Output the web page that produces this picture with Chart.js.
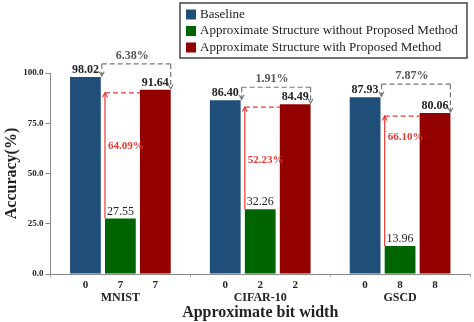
<!DOCTYPE html>
<html>
<head>
<meta charset="utf-8">
<script src="https://cdn.jsdelivr.net/npm/chart.js@4.4.1/dist/chart.umd.min.js"></script>
<style>
  body { margin: 0; background: #fff; }
  #wrap { width: 474px; height: 322px; }
</style>
</head>
<body>
<div id="wrap"><canvas id="chart-area" width="474" height="322"></canvas></div>
<script>
var categories = ['MNIST', 'CIFAR-10', 'GSCD'];
var seriesNames = [
    'Baseline',
    'Approximate Structure without Proposed Method',
    'Approximate Structure with Proposed Method'
];
var baseline = [98.02, 86.40, 87.93];
var withoutMethod = [27.55, 32.26, 13.96];
var withMethod = [91.64, 84.49, 80.06];
// approximate bit width under each bar
var baselineBits = [0, 0, 0];
var withoutBits = [7, 2, 8];
var withBits = [7, 2, 8];
// accuracy drop (baseline -> proposed) and recovery (without -> with)
var dropLabels = ['6.38%', '1.91%', '7.87%'];
var recoveryLabels = ['64.09%', '52.23%', '66.10%'];
var yTicks = [0, 25, 50, 75, 100];

var colors = {
    blue: 'rgb(31, 78, 121)',
    green: 'rgb(0, 100, 0)',
    red: 'rgb(146, 0, 0)'
};
var serif = '"Liberation Serif", "Times New Roman", serif';

function arrow(ctx, x1, y1, x2, y2, color, dashed) {
    ctx.save();
    ctx.strokeStyle = color;
    ctx.lineWidth = 1.2;
    ctx.setLineDash(dashed ? [5, 3] : []);
    ctx.beginPath();
    ctx.moveTo(x1, y1);
    ctx.lineTo(x2, y2);
    ctx.stroke();
    ctx.setLineDash([]);
    var a = Math.atan2(y2 - y1, x2 - x1);
    ctx.beginPath();
    ctx.moveTo(x2 - 5 * Math.cos(a - 0.5), y2 - 5 * Math.sin(a - 0.5));
    ctx.lineTo(x2, y2);
    ctx.lineTo(x2 - 5 * Math.cos(a + 0.5), y2 - 5 * Math.sin(a + 0.5));
    ctx.stroke();
    ctx.restore();
}

function dashLine(ctx, x1, y1, x2, y2, color) {
    ctx.save();
    ctx.strokeStyle = color;
    ctx.lineWidth = 1.2;
    ctx.setLineDash([5, 3]);
    ctx.beginPath();
    ctx.moveTo(x1, y1);
    ctx.lineTo(x2, y2);
    ctx.stroke();
    ctx.restore();
}

var annotatePlugin = {
    id: 'annotate',
    afterDatasetsDraw: function (chart, args, opts) {
        var ctx = chart.ctx;
        var y = chart.scales.y;
        var bits = [baselineBits, withoutBits, withBits];
        ctx.save();
        ctx.textAlign = 'center';

        // value labels and bit widths
        chart.data.datasets.forEach(function (ds, i) {
            var meta = chart.getDatasetMeta(i);
            meta.data.forEach(function (bar, j) {
                ctx.fillStyle = '#222';
                ctx.textBaseline = 'bottom';
                ctx.font = (i === 1 ? '' : 'bold ') + '12px ' + serif;
                ctx.fillText(ds.data[j].toFixed(2), bar.x, bar.y - 1);
                ctx.textBaseline = 'middle';
                ctx.font = 'bold 11px ' + serif;
                ctx.fillText(String(bits[i][j]), bar.x, y.bottom + 11);
            });
        });

        var m0 = chart.getDatasetMeta(0), m1 = chart.getDatasetMeta(1), m2 = chart.getDatasetMeta(2);
        categories.forEach(function (c, j) {
            var b0 = m0.data[j], b1 = m1.data[j], b2 = m2.data[j];
            // grey bracket: baseline -> proposed
            var xl = b0.x + b0.width / 2 + 1;
            var xr = b2.x + b2.width / 2;
            var ly = y.getPixelForValue(baseline[j] + 6.5);
            dashLine(ctx, xl, ly, xr, ly, '#777');
            arrow(ctx, xl, ly, xl, b0.y - 1, '#777', true);
            arrow(ctx, xr, ly, xr, b2.y - 1, '#777', true);
            ctx.fillStyle = '#555';
            ctx.textBaseline = 'bottom';
            ctx.font = 'bold 12px ' + serif;
            ctx.fillText(dropLabels[j], (xl + xr) / 2 - 4, ly - 2);

            // red arrow: without -> with
            var xa = b1.x - b1.width / 2;
            var ry = y.getPixelForValue(withMethod[j] - 1.5);
            arrow(ctx, xa, b1.y, xa, ry, '#e53935', false);
            dashLine(ctx, xa, ry, b2.x - b2.width / 2, ry, '#e53935');
            ctx.fillStyle = '#e53935';
            ctx.textAlign = 'left';
            ctx.textBaseline = 'middle';
            ctx.font = 'bold 11px ' + serif;
            ctx.fillText(recoveryLabels[j], xa + 3, y.getPixelForValue(opts.labelAt[j]));
            ctx.textAlign = 'center';
        });
        ctx.restore();
    }
};

var legendPlugin = {
    id: 'boxLegend',
    afterDraw: function (chart) {
        var ctx = chart.ctx;
        ctx.save();
        ctx.strokeStyle = '#444';
        ctx.lineWidth = 1.5;
        ctx.strokeRect(180, 3, 287, 55);
        ctx.font = '13px ' + serif;
        ctx.textBaseline = 'middle';
        ctx.textAlign = 'left';
        chart.data.datasets.forEach(function (ds, i) {
            var cy = 14.5 + i * 16.5;
            ctx.fillStyle = ds.backgroundColor;
            ctx.fillRect(186, cy - 5, 10, 10);
            ctx.fillStyle = '#222';
            ctx.fillText(ds.label, 200, cy);
        });
        ctx.restore();
    }
};

var config = {
    type: 'bar',
    data: {
        labels: categories,
        datasets: [{
            label: seriesNames[0],
            data: baseline,
            backgroundColor: colors.blue
        }, {
            label: seriesNames[1],
            data: withoutMethod,
            backgroundColor: colors.green
        }, {
            label: seriesNames[2],
            data: withMethod,
            backgroundColor: colors.red
        }]
    },
    options: {
        responsive: false,
        animation: false,
        categoryPercentage: 0.75,
        barPercentage: 0.88,
        layout: {
            padding: { top: 73, right: 4, left: 0, bottom: 0 }
        },
        plugins: {
            legend: { display: false },
            tooltip: { enabled: false },
            annotate: { labelAt: [63.5, 56.5, 68] }
        },
        scales: {
            x: {
                grid: { drawOnChartArea: false, tickLength: 3, color: '#aaa' },
                border: { color: '#888' },
                ticks: {
                    padding: 14,
                    maxRotation: 0,
                    color: '#222',
                    font: { family: serif, size: 12, weight: 'bold' }
                },
                title: {
                    display: true,
                    text: 'Approximate bit width',
                    color: '#222',
                    // tick padding is counted twice in the axis height, take it back here
                    padding: { top: -15, bottom: 0 },
                    font: { family: serif, size: 16, weight: 'bold', lineHeight: 1.1 }
                }
            },
            y: {
                min: 0,
                max: 100,
                afterBuildTicks: function (scale) {
                    scale.ticks = yTicks.map(function (v) { return { value: v }; });
                },
                grid: { drawOnChartArea: false, tickLength: 5, color: '#888' },
                border: { color: '#888' },
                ticks: {
                    padding: 2,
                    color: '#222',
                    font: { family: serif, size: 9, weight: 'bold' },
                    callback: function (v) { return v.toFixed(1); }
                },
                title: {
                    display: true,
                    text: 'Accuracy(%)',
                    color: '#222',
                    padding: { top: 2, bottom: 0 },
                    font: { family: serif, size: 16, weight: 'bold' }
                }
            }
        }
    },
    plugins: [annotatePlugin, legendPlugin]
};

var chart;
window.onload = function () {
    var ctx = document.getElementById('chart-area').getContext('2d');
    chart = new Chart(ctx, config);
};
</script>
</body>
</html>
